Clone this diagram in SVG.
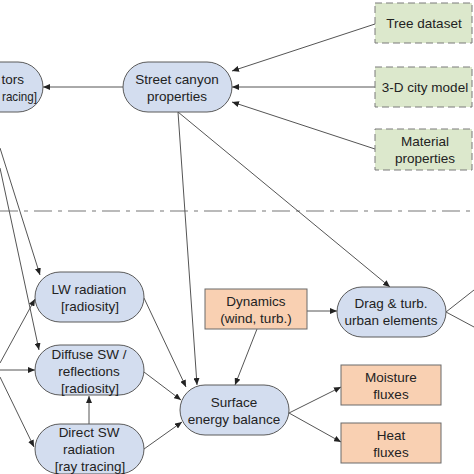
<svg xmlns="http://www.w3.org/2000/svg" width="474" height="474" viewBox="0 0 474 474">
<style>
.n{fill:#d3ddef;stroke:#5a5a5a;stroke-width:1}
.o{fill:#f9d0b2;stroke:#6a6a6a;stroke-width:1}
.g{fill:#dce8cc;stroke:#7a7a7a;stroke-width:1;stroke-dasharray:7 4}
text{font-family:"Liberation Sans",Arial,sans-serif;font-size:13.5px;fill:#222;text-anchor:middle}
.c line,.c path{stroke:#555;stroke-width:1;fill:none;marker-end:url(#a)}
.dd{stroke:#777;stroke-width:1.2;stroke-dasharray:18 6 4 6}
</style>
<defs>
<marker id="a" markerUnits="userSpaceOnUse" markerWidth="7" markerHeight="6" refX="7" refY="3" orient="auto">
<path d="M0,0 L7,3 L0,6 z" fill="#222"/>
</marker>
</defs>
<line class="dd" x1="0" y1="211" x2="474" y2="211"/>
<g class="c">
<line x1="123" y1="87" x2="43" y2="87"/>
<line x1="375" y1="24" x2="232" y2="71"/>
<line x1="375" y1="87" x2="232" y2="87"/>
<line x1="375" y1="149" x2="232" y2="102"/>
<line x1="178" y1="112" x2="197" y2="385"/>
<line x1="178" y1="112" x2="390" y2="287"/>
<line x1="0" y1="148" x2="40" y2="275"/>
<line x1="0" y1="168" x2="39" y2="350"/>
<line x1="0" y1="363" x2="35" y2="299"/>
<line x1="0" y1="370" x2="35" y2="370"/>
<line x1="0" y1="377" x2="34" y2="447"/>
<line x1="89" y1="424" x2="89" y2="396"/>
<line x1="144" y1="298" x2="186" y2="387"/>
<line x1="144" y1="372" x2="181" y2="400"/>
<line x1="144" y1="449" x2="182" y2="422"/>
<line x1="257" y1="329" x2="235" y2="385"/>
<line x1="307" y1="311" x2="337" y2="311"/>
<line x1="289" y1="413" x2="341" y2="387"/>
<line x1="289" y1="413" x2="341" y2="442"/>
<path d="M446,312 L474,290" style="marker-end:none"/>
<path d="M446,312 L474,327" style="marker-end:none"/>
</g>
<g id="view-factors"><rect class="n" x="-70" y="62" width="113" height="50" rx="25"/><text x="24" y="84" style="text-anchor:end">tors</text><text x="37" y="101" style="text-anchor:end" textLength="35" lengthAdjust="spacingAndGlyphs">racing]</text></g>
<g id="street-canyon"><rect class="n" x="123" y="62" width="109" height="50" rx="25"/><text x="177" y="83.5">Street canyon</text><text x="177" y="100.5">properties</text></g>
<g id="tree-dataset"><rect class="g" x="375" y="3" width="97" height="40"/><text x="424" y="28">Tree dataset</text></g>
<g id="city-model"><rect class="g" x="375" y="67" width="97" height="40"/><text x="425" y="92">3-D city model</text></g>
<g id="material"><rect class="g" x="375" y="129" width="97" height="41"/><text x="425" y="146">Material</text><text x="425" y="163">properties</text></g>
<g id="lw"><rect class="n" x="35" y="272" width="109" height="50" rx="25"/><text x="89" y="293.5">LW radiation</text><text x="90" y="310.5">[radiosity]</text></g>
<g id="diffuse"><rect class="n" x="35" y="345" width="109" height="50" rx="25"/><text x="89" y="359">Diffuse SW /</text><text x="89" y="376">reflections</text><text x="90" y="393">[radiosity]</text></g>
<g id="direct"><rect class="n" x="35" y="424" width="109" height="50" rx="25"/><text x="89" y="437">Direct SW</text><text x="89" y="454">radiation</text><text x="90" y="471">[ray tracing]</text></g>
<g id="surface"><rect class="n" x="180" y="385" width="109" height="50" rx="25"/><text x="234" y="406.5">Surface</text><text x="234" y="423.5">energy balance</text></g>
<g id="dynamics"><rect class="o" x="205" y="289" width="102" height="40"/><text x="256" y="305.5">Dynamics</text><text x="256" y="322.5">(wind, turb.)</text></g>
<g id="drag"><rect class="n" x="337" y="287" width="109" height="50" rx="25"/><text x="391" y="308">Drag &amp; turb.</text><text x="391" y="325">urban elements</text></g>
<g id="moisture"><rect class="o" x="341" y="365" width="100" height="40"/><text x="391" y="381.5">Moisture</text><text x="391" y="398.5">fluxes</text></g>
<g id="heat"><rect class="o" x="341" y="423" width="100" height="40"/><text x="391" y="439.5">Heat</text><text x="391" y="456.5">fluxes</text></g>
</svg>
